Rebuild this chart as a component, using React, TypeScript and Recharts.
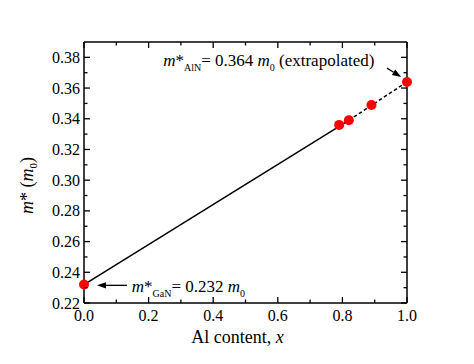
import {
  ComposedChart,
  Line,
  ReferenceDot,
  ReferenceLine,
  Scatter,
  XAxis,
  YAxis,
} from 'recharts';

/* ---- data ---------------------------------------------------------------- */

const alContent = [0, 0.79, 0.82, 0.89, 1.0];
const effMass = [0.232, 0.336, 0.339, 0.349, 0.364];

// linear fit: solid over the measured range, dashed where it is extrapolated
const fitSolidX = [0, 0.82];
const fitSolidY = [0.232, 0.339];
const fitDashX = [0.82, 1.0];
const fitDashY = [0.339, 0.364];

const xTicks = [0, 0.1, 0.2, 0.3, 0.4, 0.5, 0.6, 0.7, 0.8, 0.9, 1.0];
const xMajor = [0, 0.2, 0.4, 0.6, 0.8, 1.0];
const yTicks = [0.22, 0.23, 0.24, 0.25, 0.26, 0.27, 0.28, 0.29, 0.3, 0.31, 0.32, 0.33, 0.34, 0.35, 0.36, 0.37, 0.38];
const yMajor = [0.22, 0.24, 0.26, 0.28, 0.3, 0.32, 0.34, 0.36, 0.38];

const points = alContent.map((x, i) => ({ x, y: effMass[i] }));
const fitSolid = fitSolidX.map((x, i) => ({ x, y: fitSolidY[i] }));
const fitDash = fitDashX.map((x, i) => ({ x, y: fitDashY[i] }));

const FONT = 'Liberation Serif';
const INK = '#000';
const MAJOR = 6;
const MINOR = 3.5;
const TXT = { fontFamily: FONT, fill: INK };

const isMajor = (v: number, list: number[]) => list.some((m) => Math.abs(m - v) < 1e-6);

/* ---- inward ticks, one per side ------------------------------------------ */

function BottomTick({ x, y, payload }: any) {
  const major = isMajor(payload.value, xMajor);
  return (
    <g>
      <line x1={x} y1={y} x2={x} y2={y - (major ? MAJOR : MINOR)} stroke={INK} strokeWidth={1.3} />
      {major && (
        <text x={x} y={y + 18} textAnchor="middle" style={{ ...TXT, fontSize: 16 }}>
          {payload.value.toFixed(1)}
        </text>
      )}
    </g>
  );
}

function TopTick({ x, y, payload }: any) {
  const major = isMajor(payload.value, xMajor);
  return <line x1={x} y1={y} x2={x} y2={y + (major ? MAJOR : MINOR)} stroke={INK} strokeWidth={1.3} />;
}

function LeftTick({ x, y, payload }: any) {
  const major = isMajor(payload.value, yMajor);
  return (
    <g>
      <line x1={x} y1={y} x2={x + (major ? MAJOR : MINOR)} y2={y} stroke={INK} strokeWidth={1.3} />
      {major && (
        <text x={x - 4} y={y + 5.5} textAnchor="end" style={{ ...TXT, fontSize: 16 }}>
          {payload.value.toFixed(2)}
        </text>
      )}
    </g>
  );
}

function RightTick({ x, y, payload }: any) {
  const major = isMajor(payload.value, yMajor);
  return <line x1={x} y1={y} x2={x - (major ? MAJOR : MINOR)} y2={y} stroke={INK} strokeWidth={1.3} />;
}

/* ---- axis titles ---------------------------------------------------------- */

function XTitle({ viewBox }: any) {
  const { x, y, width } = viewBox;
  return (
    <text x={x + width / 2 - 8} y={y + 40} textAnchor="middle" style={{ ...TXT, fontSize: 18 }}>
      Al content, <tspan fontStyle="italic">x</tspan>
    </text>
  );
}

function YTitle({ viewBox }: any) {
  const { x, y, height } = viewBox;
  const cx = x + 33;
  const cy = y + height / 2 + 13;
  return (
    <text
      x={cx}
      y={cy}
      transform={`rotate(-90 ${cx} ${cy})`}
      textAnchor="middle"
      style={{ ...TXT, fontSize: 18 }}
    >
      <tspan fontStyle="italic">m</tspan>* (<tspan fontStyle="italic">m</tspan>
      <tspan fontSize={11} dy={4}>0</tspan>
      <tspan dy={-4}>)</tspan>
    </text>
  );
}

/* ---- annotations ----------------------------------------------------------- */

function Arrow({ x1, y1, x2, y2 }: any) {
  const a = Math.atan2(y2 - y1, x2 - x1);
  const L = 9;
  const W = 3.2;
  const bx = x2 - L * Math.cos(a);
  const by = y2 - L * Math.sin(a);
  const px = -Math.sin(a) * W;
  const py = Math.cos(a) * W;
  return (
    <g>
      <line x1={x1} y1={y1} x2={bx} y2={by} stroke={INK} strokeWidth={1.3} />
      <polygon points={`${x2},${y2} ${bx + px},${by + py} ${bx - px},${by - py}`} fill={INK} />
    </g>
  );
}

function Note({ cx, cy, sub, value, tail }: any) {
  return (
    <text x={cx} y={cy} style={{ ...TXT, fontSize: 17 }}>
      <tspan fontStyle="italic">m</tspan>*
      <tspan fontSize={10} dy={5}>{sub}</tspan>
      <tspan dy={-5}>= {value} </tspan>
      <tspan fontStyle="italic">m</tspan>
      <tspan fontSize={10} dy={5}>0</tspan>
      <tspan dy={-5}>{tail}</tspan>
    </text>
  );
}

const Dot = ({ cx, cy }: any) => <circle cx={cx} cy={cy} r={5} fill="#ff0000" />;

export default function App() {
  return (
    <div
      style={{
        position: 'absolute',
        left: 0,
        top: 0,
        width: 474,
        height: 364,
        background: '#fff',
        fontFamily: FONT,
      }}
    >
      <ComposedChart width={474} height={364} margin={{ top: 41, right: 66, bottom: 0, left: 0 }}>
        <XAxis
          xAxisId={0}
          dataKey="x"
          type="number"
          domain={[0, 1]}
          ticks={xTicks}
          interval={0}
          height={61}
          tickSize={0}
          tickMargin={0}
          tick={<BottomTick />}
          tickLine={false}
          axisLine={{ stroke: INK, strokeWidth: 1.5 }}
          label={{ content: XTitle }}
        />
        <XAxis
          xAxisId="top"
          dataKey="x"
          orientation="top"
          type="number"
          domain={[0, 1]}
          ticks={xTicks}
          interval={0}
          height={1}
          tickSize={0}
          tickMargin={0}
          tick={<TopTick />}
          tickLine={false}
          axisLine={{ stroke: INK, strokeWidth: 1.5 }}
        />
        <YAxis
          yAxisId={0}
          dataKey="y"
          type="number"
          domain={[0.22, 0.39]}
          ticks={yTicks}
          interval={0}
          width={84}
          tickSize={0}
          tickMargin={0}
          tick={<LeftTick />}
          tickLine={false}
          axisLine={{ stroke: INK, strokeWidth: 1.5 }}
          label={{ content: YTitle }}
        />
        <YAxis
          yAxisId="right"
          dataKey="y"
          orientation="right"
          type="number"
          domain={[0.22, 0.39]}
          ticks={yTicks}
          interval={0}
          width={1}
          tickSize={0}
          tickMargin={0}
          tick={<RightTick />}
          tickLine={false}
          axisLine={{ stroke: INK, strokeWidth: 1.5 }}
        />

        {/* invisible twin of the fit, only so the mirrored frame axes get drawn */}
        <Line
          xAxisId="top"
          yAxisId="right"
          data={fitSolid}
          dataKey="y"
          stroke="none"
          dot={false}
          activeDot={false}
          legendType="none"
          isAnimationActive={false}
        />
        <Line
          data={fitSolid}
          dataKey="y"
          type="linear"
          stroke={INK}
          strokeWidth={1.5}
          dot={false}
          activeDot={false}
          isAnimationActive={false}
        />
        <Line
          data={fitDash}
          dataKey="y"
          type="linear"
          stroke={INK}
          strokeWidth={1.5}
          strokeDasharray="3.5 2.5"
          dot={false}
          activeDot={false}
          isAnimationActive={false}
        />
        <Scatter data={points} dataKey="y" shape={<Dot />} isAnimationActive={false} />

        <ReferenceLine segment={[{ x: 0.133, y: 0.2315 }, { x: 0.04, y: 0.2315 }]} shape={<Arrow />} />
        <ReferenceLine segment={[{ x: 0.938, y: 0.373 }, { x: 0.982, y: 0.3672 }]} shape={<Arrow />} />
        <ReferenceDot
          x={0.148}
          y={0.227}
          r={0}
          shape={(p: any) => <Note {...p} sub="GaN" value="0.232" tail="" />}
        />
        <ReferenceDot
          x={0.245}
          y={0.3745}
          r={0}
          shape={(p: any) => <Note {...p} sub="AlN" value="0.364" tail=" (extrapolated)" />}
        />
      </ComposedChart>
    </div>
  );
}
